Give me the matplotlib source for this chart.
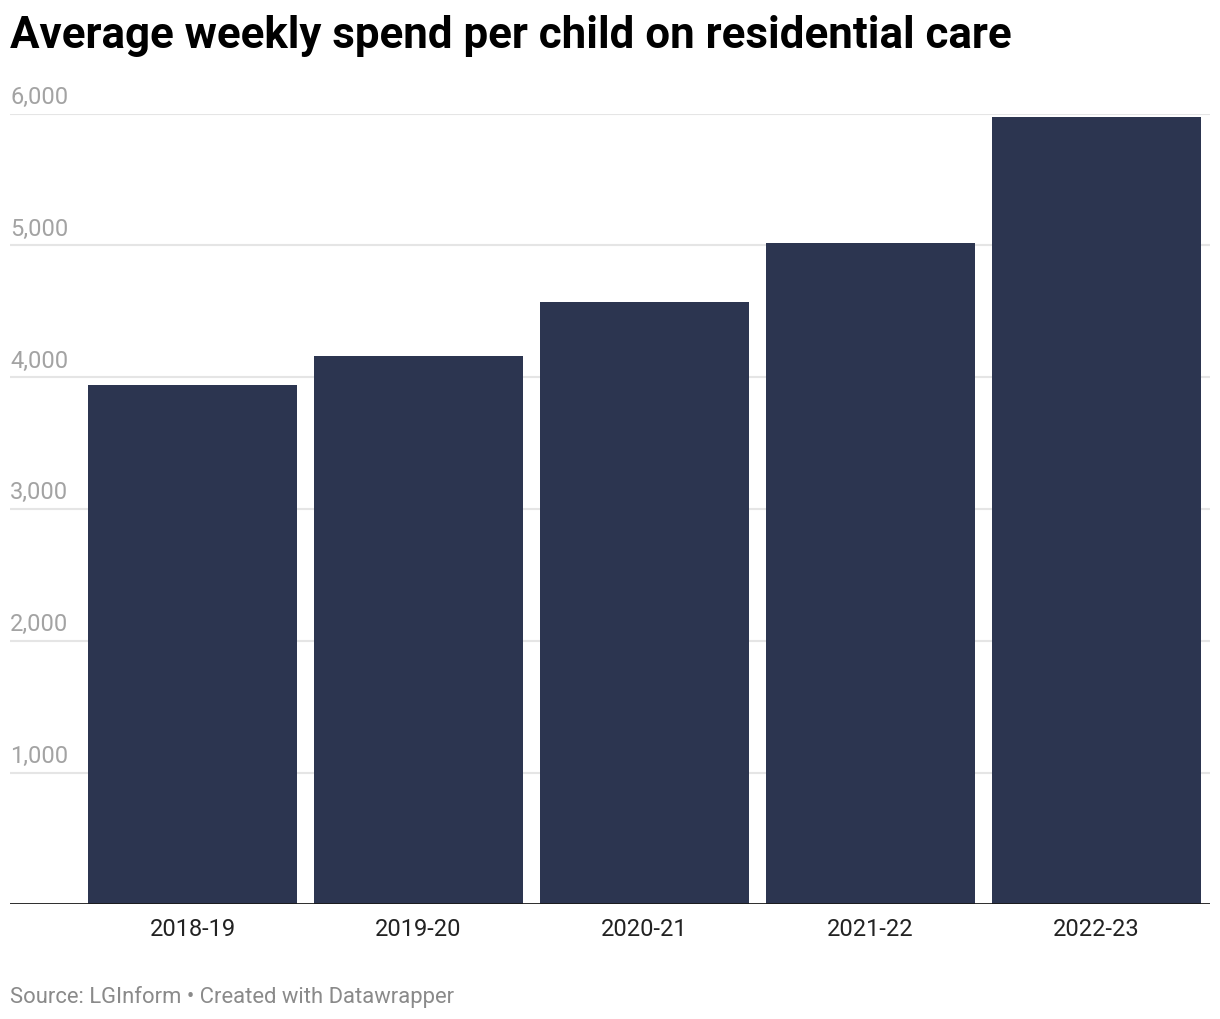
import numpy as np
import matplotlib.pyplot as plt

plt.rcParams['font.family'] = ['Roboto', 'DejaVu Sans']

# =========================
# DATA
# =========================

years = ["2018-19", "2019-20", "2020-21", "2021-22", "2022-23"]
spend = [3940, 4160, 4570, 5018, 5973]
yticks = [1000, 2000, 3000, 4000, 5000, 6000]

title = "Average weekly spend per child on residential care"
footer = "Source: LGInform \u2022 Created with Datawrapper"

# =========================
# PLOT
# =========================

W, H = 1220, 1020
fig = plt.figure(figsize=(W / 100, H / 100), dpi=100)

# axes box in pixels: x 10..1210, y 114.7..905.3
ax = fig.add_axes([10 / W, (H - 905.3) / H, 1200 / W, (905.3 - 114.7) / H])

x = np.arange(len(years))
ax.bar(x, spend, width=0.925, color="#2c3550", zorder=3)

ax.set_xlim(-0.8075, 4.502)
ax.set_ylim(0, 6000)

for v in yticks:
    ax.axhline(v, color="#e5e5e5", lw=1.5, zorder=1)
    ax.text(0, v + 42, f"{v:,}", transform=ax.get_yaxis_transform(),
            ha="left", va="bottom", fontsize=17, color="#a3a3a3")

ax.axhline(0, color="#1a1a1a", lw=2, zorder=4)

ax.set_xticks(x)
ax.set_xticklabels(years, fontsize=17, color="#222222")
ax.tick_params(axis="x", length=0, pad=9)
ax.set_yticks([])
for s in ax.spines.values():
    s.set_visible(False)

fig.text(10 / W, 1 - 36 / H, title, fontsize=31.6, fontweight="bold",
         color="#000000", ha="left", va="center")
fig.text(10 / W, 1 - 997 / H, footer, fontsize=15.8, color="#8a8a8a",
         ha="left", va="center")

fig.savefig("out.png", dpi=100)
